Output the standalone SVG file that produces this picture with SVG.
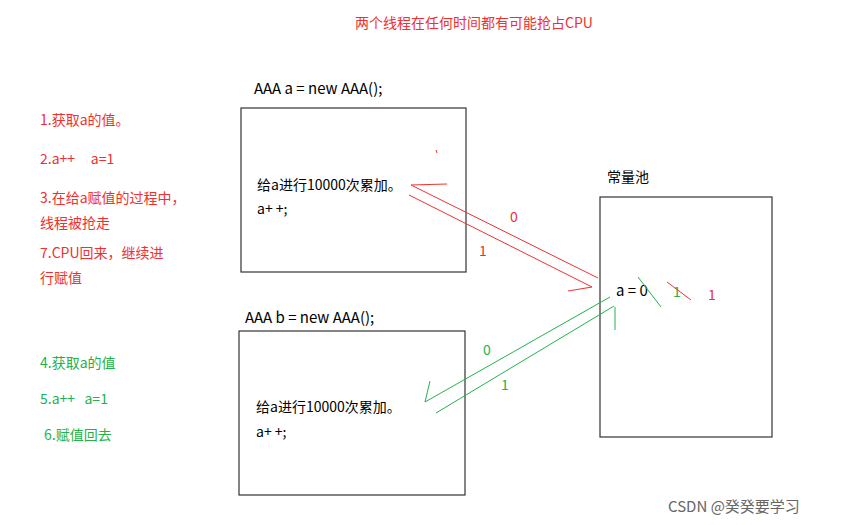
<svg xmlns="http://www.w3.org/2000/svg" width="865" height="525" viewBox="0 0 865 525">
<style>
text{font-family:"Microsoft YaHei","Noto Sans CJK SC",sans-serif;font-size:14px}
.k{fill:#000}.r{fill:#f03030}.g{fill:#22b24c}
.box{fill:#fff;stroke:#333;stroke-width:1.2}
.rl{stroke:#f03030;fill:none;stroke-width:1}
.gl{stroke:#22b24c;fill:none;stroke-width:1}
</style>
<rect width="865" height="525" fill="#fff"/>
<text class="r" x="355" y="28">两个线程在任何时间都有可能抢占CPU</text>
<g id="notes-red">
<text class="r" x="40" y="125">1.获取a的值。</text>
<text class="r" x="40" y="164" xml:space="preserve">2.a++     a=1</text>
<text class="r" x="40" y="203">3.在给a赋值的过程中，</text>
<text class="r" x="40" y="228">线程被抢走</text>
<text class="r" x="40" y="258">7.CPU回来，继续进</text>
<text class="r" x="40" y="283">行赋值</text>
</g>
<g id="notes-green">
<text class="g" x="40" y="368">4.获取a的值</text>
<text class="g" x="40" y="404" xml:space="preserve">5.a++   a=1</text>
<text class="g" x="44" y="440">6.赋值回去</text>
</g>
<g id="threadA">
<text class="k" x="254" y="94" style="font-size:15px">AAA a = new AAA();</text>
<rect class="box" x="241" y="108" width="225" height="164"/>
<text class="k" x="257" y="190">给a进行10000次累加。</text>
<text class="k" x="257" y="214" xml:space="preserve">a+ +;</text>
</g>
<g id="threadB">
<text class="k" x="245" y="323" style="font-size:15px">AAA b = new AAA();</text>
<rect class="box" x="239" y="331" width="226" height="164"/>
<text class="k" x="256" y="412">给a进行10000次累加。</text>
<text class="k" x="256" y="437" xml:space="preserve">a+ +;</text>
</g>
<g id="pool">
<text class="k" x="607" y="182">常量池</text>
<rect class="box" x="600" y="197" width="172" height="240"/>
<text class="k" x="616" y="296" style="font-size:15px">a = 0</text>
</g>
<g id="connectors">
<path class="rl" d="M436 150 L437 153"/>
<path class="rl" d="M447 184 L411 185 L598 278"/>
<path class="rl" d="M409 195 L592 287 L568 291"/>
<text class="r" x="510" y="222">0</text>
<text class="r" x="479" y="256">1</text>
<path class="gl" d="M610 297 L425 402 L430 381"/>
<path class="gl" d="M614 306 L436 413"/>
<path class="gl" d="M615 307 L615 330"/>
<text class="g" x="483" y="355">0</text>
<text class="g" x="501" y="390">1</text>
<path class="gl" d="M638 277 L661 307"/>
<text class="g" x="673" y="297">1</text>
<path class="rl" d="M667 282 L691 300"/>
<text class="r" x="708" y="300">1</text>
</g>
<text x="668" y="512" style="font-size:15px;fill:#666">CSDN @癸癸要学习</text>
</svg>
